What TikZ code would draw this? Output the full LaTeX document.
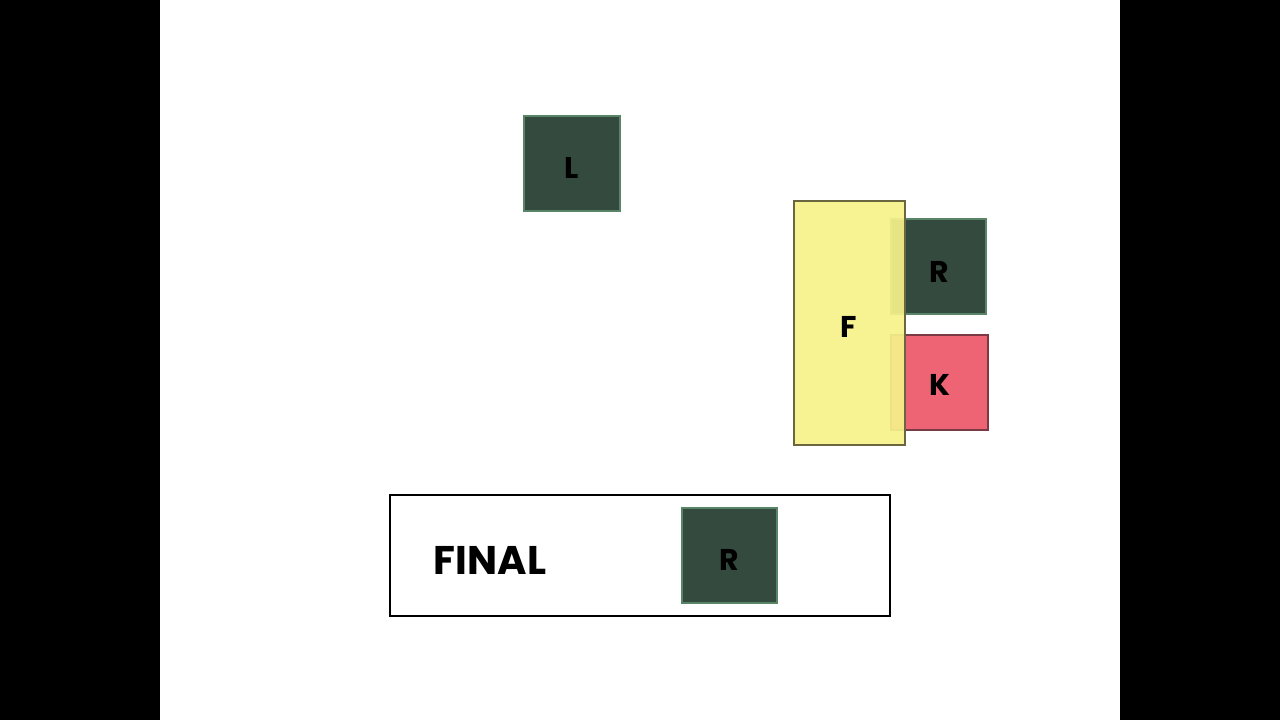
\documentclass[tikz,border=0pt]{standalone}
\usepackage{fontspec}
\setmainfont{Poppins}
\definecolor{dg}{HTML}{344A3F}
\definecolor{dgb}{HTML}{5A8468}
\definecolor{yf}{HTML}{F6F28A}
\definecolor{yb}{HTML}{6B6640}
\definecolor{kf}{HTML}{EF6474}
\definecolor{kb}{HTML}{7A3A44}
\begin{document}
\begin{tikzpicture}[x=1pt,y=-1pt,
  sq/.style={draw=dgb,fill=dg,line width=2.5pt},
  lt/.style={font=\bfseries\fontsize{30}{30}\selectfont,text=black}]
\useasboundingbox (0,0) rectangle (1280,720);
\fill[black] (0,0) rectangle (160,720);
\fill[black] (1120,0) rectangle (1280,720);
\draw[sq] (524,116) rectangle (620,211);
\node[lt] (l) at (572,168) {L};
\draw[sq] (891,219) rectangle (986,314);
\node[lt] (r) at (939,272) {R};
\draw[draw=kb,fill=kf,line width=2.5pt] (891,335) rectangle (988,430);
\node[lt] (k) at (940,385) {K};
\draw[draw=yb,fill=yf,fill opacity=0.92,line width=2.5pt] (794,201) rectangle (905,445);
\node[lt] (f) at (849,327) {F};
\draw[black,line width=2.5pt] (390,495) rectangle (890,616);
\node[font=\bfseries\fontsize{40}{40}\selectfont] (fin) at (490,560) {FINAL};
\draw[sq] (682,508) rectangle (777,603);
\node[lt] (r2) at (729,560) {R};
\end{tikzpicture}
\end{document}
